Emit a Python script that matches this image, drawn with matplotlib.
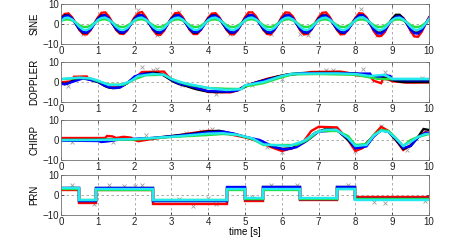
import numpy as np
import matplotlib
matplotlib.use("Agg")
import matplotlib.pyplot as plt

# ---------------- data ----------------
t_sine = np.round(np.arange(0, 10.01, 0.1), 2)
sine_true = [2.6, 4.3, 4.3, 2.6, 0.0, -2.6, -4.3, -4.4, -2.6, 0.0,
             2.6, 4.3, 4.3, 2.6, 0.0, -2.6, -4.3, -4.3, -2.6, 0.0,
             2.6, 4.3, 4.3, 2.6, 0.0, -2.6, -4.3, -4.3, -2.6, 0.0,
             2.6, 4.3, 4.3, 2.6, 0.0, -2.6, -4.3, -4.3, -2.6, 0.0,
             2.6, 4.3, 4.3, 2.6, 0.0, -2.6, -4.3, -4.3, -2.6, 0.0,
             2.6, 4.3, 4.3, 2.6, 0.0, -2.6, -4.3, -4.3, -2.6, 0.0,
             2.6, 4.3, 4.3, 2.6, 0.0, -2.6, -4.3, -4.3, -2.6, 0.0,
             2.6, 4.3, 4.3, 2.6, 0.0, -2.6, -4.3, -4.3, -2.6, 0.0,
             2.6, 4.3, 4.3, 2.6, 0.0, -2.6, -4.3, -4.3, -2.6, 0.0,
             2.6, 4.6, 4.6, 2.8, 0.0, -2.6, -4.3, -4.3, -2.6, 0.0, 2.6]
sine_red = [3.2, 5.0, 5.3, 3.4, 0.4, -3.0, -5.0, -5.2, -3.2, 0.2,
            3.2, 5.6, 5.8, 3.8, 0.6, -3.0, -4.8, -5.0, -3.2, 0.2,
            3.4, 5.4, 6.0, 3.6, 0.4, -3.0, -5.2, -5.4, -3.4, 0.0,
            3.0, 5.4, 5.6, 3.6, 0.5, -3.0, -5.0, -5.0, -3.0, 0.2,
            3.2, 5.2, 5.4, 3.4, 0.4, -3.0, -5.0, -5.2, -3.2, 0.0,
            3.4, 5.8, 5.8, 3.8, 0.6, -3.0, -5.0, -5.2, -3.0, 0.2,
            3.6, 5.8, 5.6, 3.8, 0.4, -3.2, -5.2, -5.0, -3.0, 0.4,
            3.4, 5.6, 5.8, 3.6, 0.4, -3.0, -5.2, -5.0, -3.0, 0.2,
            3.0, 5.4, 5.2, 3.4, 0.2, -3.6, -6.0, -6.0, -4.0, -0.4,
            2.6, 4.4, 4.4, 3.0, 0.2, -3.4, -6.2, -6.4, -4.0, -0.2, 3.4]
sine_blue = [2.4, 4.0, 4.2, 2.8, 0.2, -2.4, -4.0, -4.4, -2.8, -0.2,
             2.4, 4.0, 4.4, 2.8, 0.2, -2.4, -4.0, -4.4, -2.8, -0.2,
             2.4, 4.2, 4.4, 2.8, 0.2, -2.4, -4.0, -4.4, -2.8, -0.2,
             2.4, 4.0, 4.4, 2.8, 0.2, -2.4, -4.0, -4.2, -2.8, -0.2,
             2.4, 4.0, 4.2, 2.8, 0.2, -2.4, -4.0, -4.4, -2.8, -0.2,
             2.4, 4.2, 4.4, 2.8, 0.2, -2.4, -4.0, -4.4, -2.8, -0.2,
             2.4, 4.2, 4.4, 2.8, 0.2, -2.4, -4.0, -4.4, -2.8, -0.2,
             2.4, 4.0, 4.2, 2.8, 0.2, -2.4, -4.0, -4.4, -2.8, -0.2,
             2.4, 4.2, 4.4, 2.8, 0.2, -2.8, -4.6, -4.8, -3.2, -0.4,
             2.0, 3.6, 3.8, 2.6, 0.2, -2.8, -4.6, -4.8, -3.2, -0.2, 3.0]
sine_green = [1.6, 2.2, 2.3, 1.8, 0.8, -0.6, -1.4, -1.5, -0.9, 0.4,
              1.6, 2.2, 2.4, 1.8, 0.8, -0.6, -1.4, -1.5, -0.9, 0.4,
              1.6, 2.2, 2.4, 1.8, 0.8, -0.6, -1.4, -1.5, -0.9, 0.4,
              1.6, 2.2, 2.3, 1.8, 0.8, -0.6, -1.4, -1.5, -0.9, 0.4,
              1.6, 2.2, 2.3, 1.8, 0.8, -0.6, -1.4, -1.5, -0.9, 0.4,
              1.6, 2.2, 2.4, 1.8, 0.8, -0.6, -1.4, -1.5, -0.9, 0.4,
              1.6, 2.2, 2.4, 1.8, 0.8, -0.6, -1.4, -1.5, -0.9, 0.4,
              1.6, 2.2, 2.3, 1.8, 0.8, -0.6, -1.4, -1.5, -0.9, 0.4,
              1.6, 2.2, 2.3, 1.8, 0.8, -0.6, -1.4, -1.5, -0.9, 0.4,
              1.6, 2.2, 2.3, 1.8, 0.8, -0.6, -1.4, -1.5, -0.9, 0.4, 1.6]
sine_cyan = [1.4, 3.0, 3.2, 2.3, 0.6, -1.4, -2.8, -3.0, -2.0, 0.0,
             2.0, 3.0, 3.2, 2.3, 0.6, -1.4, -2.8, -3.0, -2.0, 0.0,
             2.0, 3.0, 3.2, 2.3, 0.6, -1.4, -2.8, -3.0, -2.0, 0.0,
             2.0, 3.0, 3.2, 2.3, 0.6, -1.4, -2.8, -3.0, -2.0, 0.0,
             2.0, 3.0, 3.2, 2.3, 0.6, -1.4, -2.8, -3.0, -2.0, 0.0,
             2.0, 3.0, 3.2, 2.3, 0.6, -1.4, -2.8, -3.0, -2.0, 0.0,
             2.0, 3.0, 3.2, 2.3, 0.6, -1.4, -2.8, -3.0, -2.0, 0.0,
             2.0, 3.0, 3.2, 2.3, 0.6, -1.4, -2.8, -3.0, -2.0, 0.0,
             2.0, 3.2, 3.4, 2.3, 0.6, -1.4, -2.8, -3.0, -2.0, 0.0,
             2.0, 3.0, 3.2, 2.3, 0.6, -1.4, -2.8, -3.0, -2.0, 0.0, 2.6]
sine_obs_t = [0.6, 1.2, 2.1, 2.6, 3.2, 4.6, 5.7, 6.5, 6.7, 8.15, 8.6, 9.5]
sine_obs_v = [-5.2, 5.5, 7.0, -5.6, 5.8, -5.0, -5.0, -5.0, -5.6, 7.5, -5.5, -3.5]

# DOPPLER
dop_t_k = [0.0, 0.1, 0.2, 0.3, 0.4, 0.5, 0.6, 0.7, 0.8, 0.9, 1.0, 1.1, 1.2, 1.3, 1.4,
           1.5, 1.6, 1.7, 1.8, 1.9, 2.0, 2.1, 2.2, 2.3, 2.4, 2.5, 2.6, 2.7, 2.8, 2.9,
           3.0, 3.1, 3.2, 3.3, 3.4, 3.5, 3.6, 3.7, 3.8, 3.9, 4.0, 4.2, 4.4, 4.6, 4.7,
           4.8, 4.9, 5.0, 5.1, 5.2, 5.3, 5.4, 5.5, 5.6, 5.7, 5.8, 5.9, 6.0, 6.1, 6.2,
           6.3, 6.4, 6.6, 7.0, 7.5, 8.0, 8.1, 8.2, 8.3, 8.4, 8.5, 8.6, 8.7, 8.8, 8.9,
           9.0, 9.1, 9.2, 9.3, 9.6, 10.0]
dop_true = [-0.5, -1.0, -0.6, 0.4, 1.3, 1.8, 2.0, 1.6, 1.1, 0.5, 0.0, -1.0, -2.0, -2.8, -3.0,
            -3.0, -2.5, -1.5, -0.5, 0.8, 2.0, 3.0, 3.7, 4.2, 4.5, 4.6, 4.5, 4.0, 3.2, 2.0,
            0.8, -0.2, -1.0, -1.5, -2.0, -2.6, -3.2, -3.7, -4.1, -4.5, -4.8, -5.0, -5.0, -4.8, -4.5,
            -4.0, -3.3, -2.5, -1.5, -0.8, -0.2, 0.3, 0.8, 1.3, 1.8, 2.3, 2.8, 3.2, 3.6, 3.9,
            4.1, 4.3, 4.5, 4.6, 4.6, 4.3, 4.0, 3.8, 3.5, 3.2, 2.8, 2.5, 2.2, 2.0, 1.5,
            1.0, 0.5, 0.2, 0.0, 0.0, 0.0]
dop_red_t = [0.0, 0.3, 0.35, 0.7, 0.75, 1.0, 1.2, 1.5, 1.7, 1.9, 2.1, 2.2, 2.8, 2.9, 3.1,
             3.3, 3.6, 3.9, 4.0, 4.6, 4.8, 5.0, 5.3, 5.6, 5.9, 6.2, 6.6, 6.8, 7.6, 7.8,
             8.0, 8.4, 8.5, 8.7, 8.75, 8.9, 9.0, 9.4, 10.0]
dop_red = [-0.2, 0.4, 2.6, 2.8, 1.5, 0.3, -2.0, -2.6, -1.6, 0.8, 3.5, 5.0, 5.2, 3.0, 0.2,
           -1.2, -2.8, -4.0, -5.0, -5.2, -4.2, -1.8, -0.2, 1.6, 2.8, 3.8, 4.4, 5.0, 5.2, 4.6,
           3.4, 2.8, 0.6, -0.6, 1.6, 1.2, 0.4, -0.3, -0.2]
dop_blue_t = [0.0, 0.1, 0.3, 0.6, 1.0, 1.2, 1.4, 1.6, 1.8, 2.0, 2.2, 2.5, 2.8, 3.0, 3.2,
              3.5, 3.8, 4.0, 4.6, 4.8, 5.0, 5.4, 5.8, 6.2, 6.6, 7.5, 8.0, 8.4, 8.45, 8.6,
              8.8, 8.95, 9.0, 9.4, 10.0]
dop_blue = [-0.8, -1.2, 0.0, 1.8, 0.2, -2.0, -3.0, -2.8, -0.6, 2.8, 4.0, 4.2, 3.6, 1.2, -0.8,
            -2.0, -3.6, -4.6, -4.8, -4.2, -2.0, 0.2, 2.0, 3.6, 4.4, 4.4, 4.2, 4.2, 2.4, 2.2,
            3.4, 3.0, 1.2, 0.8, 0.8]
dop_green_t = [0.0, 0.5, 0.8, 1.0, 1.3, 1.7, 1.8, 2.0, 2.3, 2.8, 3.0, 3.2, 3.5, 4.0, 4.5,
               4.9, 5.0, 5.5, 6.0, 6.3, 7.0, 8.0, 8.3, 8.6, 9.0, 10.0]
dop_green = [1.4, 2.0, 1.8, 0.4, -1.3, -1.3, -0.6, 1.4, 3.4, 3.6, 1.6, 0.0, -1.5, -3.0, -3.4,
             -3.5, -2.2, -0.6, 2.4, 3.8, 4.0, 3.6, 2.6, 1.6, 1.4, 1.4]
dop_cyan_t = [0.0, 0.5, 0.8, 1.0, 1.3, 1.6, 1.9, 2.1, 2.5, 2.8, 3.0, 3.3, 3.6, 4.0, 4.5,
              4.9, 5.0, 5.5, 6.0, 6.3, 7.5, 8.0, 8.4, 8.8, 9.0, 10.0]
dop_cyan = [1.5, 2.2, 1.8, 0.8, -1.5, -1.5, 0.5, 3.0, 4.0, 3.6, 1.5, -0.3, -1.5, -3.0, -4.0,
            -3.6, -1.6, 0.0, 3.0, 4.2, 4.3, 4.0, 3.0, 3.6, 1.6, 1.6]
dop_obs_t = [0.2, 2.2, 2.5, 2.6, 3.3, 4.2, 5.2, 6.0, 7.2, 7.4, 8.2, 8.8, 9.6, 9.8]
dop_obs_v = [-2.0, 7.5, 6.0, 6.5, -1.5, -6.0, -1.5, 1.5, 6.2, 6.0, 6.5, 5.0, 1.0, 2.0]

# CHIRP
chirp_t = [0.0, 1.0, 2.0, 2.5, 3.0, 3.5, 4.0, 4.3, 4.6, 5.0, 5.4, 5.7, 6.0, 6.3, 6.6,
           6.9, 7.2, 7.5, 7.8, 8.0, 8.2, 8.5, 8.7, 8.9, 9.1, 9.3, 9.5, 9.7, 9.85, 10.0]
chirp_true = [0.0, 0.1, 0.4, 1.0, 2.0, 3.0, 4.3, 4.6, 3.4, 1.6, -0.5, -3.0, -4.5, -4.0, -1.0,
              3.5, 5.5, 5.0, 0.0, -4.0, -3.5, 2.0, 5.0, 4.0, 0.0, -4.5, -3.0, 1.5, 5.5, 5.0]
chirp_red_t = [0.0, 1.2, 1.25, 1.4, 1.5, 1.7, 1.9, 2.0, 2.1, 2.4, 3.0, 3.5, 4.0, 4.3, 4.6,
               5.0, 5.4, 5.7, 6.0, 6.3, 6.6, 6.8, 7.0, 7.5, 7.8, 8.0, 8.2, 8.5, 8.7, 8.9,
               9.1, 9.3, 9.5, 9.7, 9.9, 10.0]
chirp_red = [1.0, 1.0, 2.0, 1.8, 1.0, 1.6, 1.2, 0.0, -0.6, 0.3, 1.8, 3.3, 4.6, 4.3, 2.8,
             1.3, -0.8, -3.5, -5.5, -4.0, -0.5, 4.5, 6.6, 6.3, 0.0, -5.5, -4.0, 2.5, 6.6, 4.5,
             0.0, -5.0, -2.5, 1.5, 4.0, 3.5]
chirp_blue_t = [0.0, 1.0, 1.1, 1.3, 1.5, 2.0, 2.5, 3.0, 3.5, 4.0, 4.4, 4.7, 5.0, 5.4, 5.8,
                6.1, 6.4, 6.7, 7.0, 7.5, 7.8, 8.0, 8.3, 8.5, 8.7, 8.9, 9.1, 9.3, 9.5, 9.7,
                9.9, 10.0]
chirp_blue = [-0.3, -0.5, -1.0, -0.6, 0.0, 0.6, 1.0, 1.8, 2.8, 3.8, 4.2, 3.2, 1.6, 0.0, -3.6,
              -4.8, -3.6, -0.2, 4.2, 4.8, 0.8, -4.2, -3.2, 1.8, 4.8, 4.2, 0.6, -4.0, -3.0, 1.2,
              3.6, 3.6]
chirp_green_t = [0.0, 2.0, 3.0, 4.0, 4.4, 4.8, 5.2, 5.5, 6.4, 6.7, 7.0, 7.5, 7.8, 8.0, 8.3,
                 8.5, 8.7, 8.9, 9.1, 9.3, 9.5, 9.7, 10.0]
chirp_green = [0.0, 0.2, 1.5, 2.5, 3.0, 2.5, 0.5, -2.5, -2.5, 0.0, 4.5, 4.5, 2.0, -2.5, -2.0,
               2.5, 5.0, 4.5, 1.0, -3.0, 0.0, 1.5, 3.0]
chirp_cyan_t = [0.0, 1.0, 2.0, 3.0, 4.0, 4.4, 4.8, 5.2, 5.5, 6.2, 6.6, 6.9, 7.2, 7.5, 7.8,
                8.0, 8.3, 8.5, 8.7, 8.9, 9.1, 9.3, 9.5, 9.7, 9.9, 10.0]
chirp_cyan = [0.0, 0.0, 0.5, 1.6, 3.2, 3.4, 2.6, 0.8, -2.2, -3.0, -0.5, 3.5, 5.2, 5.0, 1.0,
              -3.0, -2.5, 2.2, 4.6, 4.0, 0.8, -3.0, -1.0, 1.5, 3.0, 3.0]
chirp_obs_t = [0.3, 1.4, 2.3, 3.4, 3.8, 4.1, 5.6, 6.0, 7.3, 8.0, 8.7, 9.4]
chirp_obs_v = [-1.0, -0.8, 2.5, 3.5, 4.5, 5.5, -3.5, -6.0, 5.5, -5.5, 7.0, -5.0]

# PRN (piecewise constant)
prn_edges = [0.0, 0.5, 0.95, 2.5, 4.5, 5.0, 5.5, 6.5, 7.5, 8.0, 10.0]
prn_true = [3.5, -3.0, 3.5, -3.0, 3.5, -2.0, 4.0, -2.0, 4.0, -1.8]
prn_red = [2.5, -4.0, 2.5, -4.5, 3.0, -3.0, 3.5, -2.5, 3.5, -0.8]
prn_blue = [3.5, -3.0, 3.5, -3.0, 3.8, -2.0, 4.0, -2.0, 4.0, -2.0]
prn_green = [3.0, -2.6, 2.6, -2.6, 2.6, -2.0, 2.6, -2.0, 3.0, -2.2]
prn_cyan = [3.6, -2.4, 3.0, -2.4, 3.0, -1.6, 3.2, -1.6, 3.2, -2.4]
prn_obs_t = [0.3, 0.9, 1.3, 1.7, 2.0, 2.2, 3.2, 3.6, 4.0, 4.2, 5.2, 5.7, 6.4, 7.8, 8.5, 8.8, 9.9]
prn_obs_v = [4.8, -4.5, 4.8, 4.5, 4.5, 5.0, -2.0, -5.5, -1.5, -4.5, -1.0, 5.0, 5.0, 5.2, -3.5, -3.8, -3.0]

ylabels = ["SINE", "DOPPLER", "CHIRP", "PRN"]
xticks = [0, 1, 2, 3, 4, 5, 6, 7, 8, 9, 10]
yticks = [-10, 0, 10]

# ---------------- drawing ----------------
plt.rcParams['font.family'] = ['Liberation Sans', 'DejaVu Sans']
fig = plt.figure(figsize=(4.74, 2.45), dpi=100)

W, H = 474.0, 245.0
left_px, right_px = 61.0, 429.0
tops = [4.0, 62.0, 120.0, 175.0]
ax_h = 40.0

K = 'black'
R = '#ff0000'
B = '#0000ff'
G = '#22e040'
C = '#22e8f0'
LW = 1.7


def step_xy(edges, vals):
    xs, ys = [], []
    for i, v in enumerate(vals):
        xs += [edges[i], edges[i + 1]]
        ys += [v, v]
    return xs, ys


panels = [
    dict(obs=(sine_obs_t, sine_obs_v),
         lines=[(t_sine, sine_red, R), (t_sine, sine_true, K), (t_sine, sine_blue, B),
                (t_sine, sine_green, G), (t_sine, sine_cyan, C)]),
    dict(obs=(dop_obs_t, dop_obs_v),
         lines=[(dop_red_t, dop_red, R), (dop_t_k, dop_true, K), (dop_blue_t, dop_blue, B),
                (dop_green_t, dop_green, G), (dop_cyan_t, dop_cyan, C)]),
    dict(obs=(chirp_obs_t, chirp_obs_v),
         lines=[(chirp_red_t, chirp_red, R), (chirp_t, chirp_true, K), (chirp_blue_t, chirp_blue, B),
                (chirp_green_t, chirp_green, G), (chirp_cyan_t, chirp_cyan, C)]),
    dict(obs=(prn_obs_t, prn_obs_v),
         lines=[step_xy(prn_edges, prn_red) + (R,), step_xy(prn_edges, prn_true) + (K,),
                step_xy(prn_edges, prn_blue) + (B,), step_xy(prn_edges, prn_green) + (G,),
                step_xy(prn_edges, prn_cyan) + (C,)]),
]

for i, p in enumerate(panels):
    top = tops[i]
    ax = fig.add_axes([left_px / W, 1 - (top + ax_h) / H, (right_px - left_px) / W, ax_h / H])
    for xv in xticks[1:-1]:
        ax.axvline(xv, color='#a0a0a0', lw=0.6, ls=(0, (3, 3)), zorder=0)
    ax.axhline(0, color='#a0a0a0', lw=0.6, ls=(0, (3, 3)), zorder=0)
    ax.plot(p['obs'][0], p['obs'][1], 'x', color='#a0a0a0', ms=3.2, mew=0.6, zorder=1)
    for (xs, ys, col) in p['lines']:
        ax.plot(xs, ys, color=col, lw=LW, zorder=2, solid_joinstyle='miter')
    ax.set_xlim(0, 10)
    ax.set_ylim(-10, 10)
    ax.set_xticks(xticks)
    ax.set_yticks(yticks)
    ax.tick_params(direction='in', length=2, width=0.5, labelsize=7, pad=1.5,
                   colors='#222222', top=True, right=True)
    for s in ax.spines.values():
        s.set_linewidth(0.6)
        s.set_color('#707070')
    ax.set_ylabel(ylabels[i], fontsize=7, labelpad=2)
    if i == 3:
        ax.set_xlabel('time [s]', fontsize=7, labelpad=0)

fig.savefig('out.png', dpi=100)
